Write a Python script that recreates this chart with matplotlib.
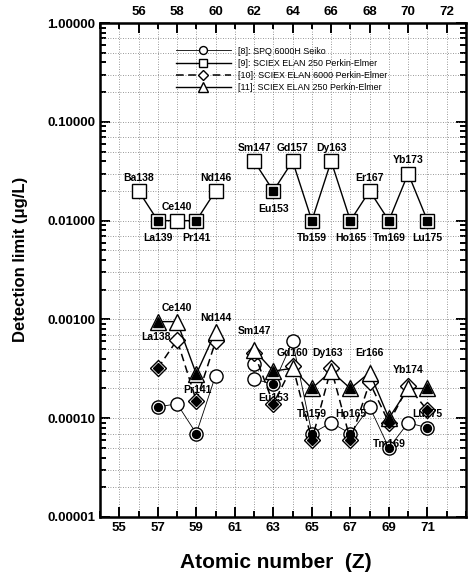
import numpy as np
import matplotlib
matplotlib.use('Agg')
import matplotlib.pyplot as plt
from matplotlib.ticker import FixedLocator, FormatStrFormatter, LogLocator, NullFormatter

plt.rcParams['font.family'] = ['Liberation Sans', 'DejaVu Sans']
plt.rcParams['font.weight'] = 'bold'
#-------------------------------------------------------------------------------
# data (61 = Pm, no value)
nan = np.nan
z_sq = [56, 57, 58, 59, 60, 61, 62, 63, 64, 65, 66, 67, 68, 69, 70, 71]
dl_sq = [0.02, 0.01, 0.01, 0.01, 0.02, nan, 0.04, 0.02, 0.04, 0.01, 0.04, 0.01, 0.02, 0.01, 0.03, 0.01]

z_low = [57, 58, 59, 60, 61, 62, 63, 64, 65, 66, 67, 68, 69, 70, 71]
dl_tri = [0.00095, 0.00095, 0.00028, 0.00075, nan, 0.00049, 0.0003, 0.00032, 0.0002, 0.0003,
          0.0002, 0.00029, 0.0001, 0.0002, 0.0002]
dl_dia = [0.00032, 0.00062, 0.00015, 0.0006, nan, 0.00046, 0.00014, 0.00034, 0.00006, 0.00032,
          0.00006, 0.00023, 0.00009, 0.00021, 0.00012]

z_circ = [57, 58, 59, 60, 61, 62, 62, 63, 64, 65, 66, 67, 68, 69, 70, 71]
dl_circ = [0.00013, 0.00014, 0.00007, 0.00027, nan, 0.00035, 0.00025, 0.00022, 0.0006, 0.00007,
           0.00009, 0.00007, 0.00013, 0.00005, 0.00009, 0.00008]

legend_names = ['[8]: SPQ 6000H Seiko', '[9]: SCIEX ELAN 250 Perkin-Elmer',
                '[10]: SCIEX ELAN 6000 Perkin-Elmer', '[11]: SCIEX ELAN 250 Perkin-Elmer']

# isotope labels: text, x, y (data coords)
labels_sq = [('Ba138', 56, 0.027), ('Nd146', 60, 0.027), ('Sm147', 62, 0.054), ('Gd157', 64, 0.054),
             ('Dy163', 66, 0.054), ('Er167', 68, 0.027), ('Yb173', 70, 0.041), ('Ce140', 58, 0.0137),
             ('Eu153', 63, 0.0131), ('La139', 57, 0.0067), ('Pr141', 59, 0.0067), ('Tb159', 65, 0.0067),
             ('Ho165', 67, 0.0067), ('Tm169', 69, 0.0067), ('Lu175', 71, 0.0067)]
labels_low = [('La138', 56.9, 0.00066), ('Ce140', 58.0, 0.0013), ('Nd144', 60.0, 0.00103),
              ('Sm147', 62.0, 0.00076), ('Gd160', 64.0, 0.000457), ('Dy163', 65.8, 0.000457),
              ('Er166', 68.0, 0.000457), ('Yb174', 70.0, 0.000307), ('Pr141', 59.05, 0.000193),
              ('Eu153', 63.0, 0.00016), ('Tb159', 65.0, 0.00011), ('Ho165', 67.0, 0.00011),
              ('Tm169', 69.0, 0.0000548), ('Lu175', 71.0, 0.00011)]
#-------------------------------------------------------------------------------
fig = plt.figure(figsize=(4.74, 5.77), dpi=100)
ax = fig.add_axes([0.211, 0.104, 0.772, 0.856])

def draw(z, v, marker, ls, lw, ms, label):
    z = np.array(z, dtype=float)
    v = np.array(v, dtype=float)
    ax.plot(z, v, color='k', ls=ls, lw=lw, marker=marker, ms=ms, mfc='white', mec='k',
            mew=1.0, label=label, zorder=3)
    odd = (z % 2 == 1) & ~np.isnan(v)
    ax.plot(z[odd], v[odd], ls='none', marker=marker, ms=ms * 0.6, mfc='k', mec='k', zorder=4)

draw(z_circ, dl_circ, 'o', '-', 0.6, 9.5, legend_names[0])
draw(z_sq, dl_sq, 's', '-', 1.0, 10.5, legend_names[1])
draw(z_low, dl_dia, 'D', (0, (5, 3)), 1.1, 8.5, legend_names[2])
draw(z_low, dl_tri, '^', '-', 1.0, 11, legend_names[3])

for t, x, y in labels_sq + labels_low:
    ax.text(x, y, t, ha='center', va='center', fontsize=7.5, fontweight='bold', zorder=5)

ax.set_yscale('log')
ax.set_ylim(1e-5, 1)
ax.set_xlim(54, 73)
ax.xaxis.set_major_locator(FixedLocator(range(55, 72, 2)))
ax.xaxis.set_minor_locator(FixedLocator(range(54, 74, 1)))
ax.yaxis.set_major_locator(LogLocator(base=10, numticks=10))
ax.yaxis.set_minor_locator(LogLocator(base=10, subs=np.arange(2, 10), numticks=20))
ax.yaxis.set_major_formatter(FormatStrFormatter('%.5f'))
ax.yaxis.set_minor_formatter(NullFormatter())
ax.tick_params(which='both', direction='in', right=True, labelsize=9.5, width=1.4)
ax.tick_params(which='major', length=7)
ax.tick_params(which='minor', length=4)

# dotted grid: every integer Z, decades and a few in-between levels
gridstyle = dict(color='#777777', ls=(0, (1, 2)), lw=0.6, zorder=1)
ax.grid(True, which='both', axis='x', **{k: v for k, v in gridstyle.items() if k != 'zorder'})
for dec in [1e-5, 1e-4, 1e-3, 1e-2, 1e-1]:
    for m in [1, 2, 3, 5, 7]:
        ax.axhline(dec * m, **gridstyle)
ax.set_axisbelow(True)
for s in ax.spines.values():
    s.set_linewidth(1.8)

ax2 = ax.twiny()
ax2.set_xlim(54, 73)
ax2.xaxis.set_major_locator(FixedLocator(range(56, 73, 2)))
ax2.xaxis.set_minor_locator(FixedLocator(range(54, 74, 1)))
ax2.tick_params(which='both', direction='in', labelsize=9.5, width=1.4)
ax2.tick_params(which='major', length=7)
ax2.tick_params(which='minor', length=4)

ax.set_xlabel('Atomic number  (Z)', fontsize=15, fontweight='bold')
ax.xaxis.set_label_coords(0.48, -0.072)
ax.set_ylabel('Detection limit (\u03bcg/L)', fontsize=12, fontweight='bold')
ax.yaxis.set_label_coords(-0.197, 0.522)

leg = ax.legend(loc='upper left', bbox_to_anchor=(0.19, 0.965), frameon=False, fontsize=6.4,
                handlelength=6.2, markerscale=0.6, labelspacing=0.35, borderpad=0.2)
for t in leg.get_texts():
    t.set_fontweight('normal')

fig.savefig('out.png', dpi=100)
